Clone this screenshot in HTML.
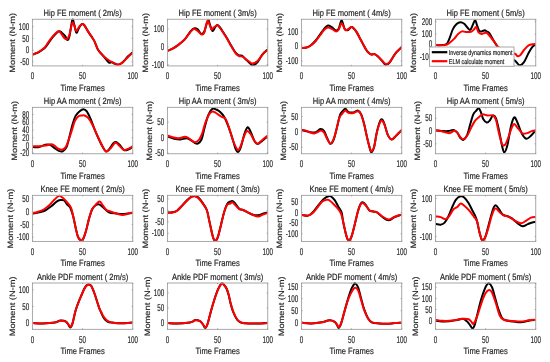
<!DOCTYPE html><html><head><meta charset="utf-8"><style>html,body{margin:0;padding:0;background:#fff;}svg{display:block;filter:blur(0.35px)}text{font-family:"Liberation Sans",sans-serif;stroke:#262626;stroke-width:0.2px;text-rendering:geometricPrecision}</style></head><body>
<svg width="550" height="362" viewBox="0 0 550 362">
<clipPath id="c00"><rect x="32.5" y="16.3" width="100.2" height="49.60000000000001"/></clipPath>
<g clip-path="url(#c00)"><path d="M33.10 54.40 C34.00 54.05 36.67 53.27 38.50 52.30 C40.33 51.33 42.72 49.73 44.10 48.60 C45.48 47.47 45.43 47.32 46.80 45.50 C48.17 43.68 50.35 40.05 52.30 37.70 C54.25 35.35 56.92 32.23 58.50 31.40 C60.08 30.57 60.72 31.95 61.80 32.70 C62.88 33.45 64.05 34.68 65.00 35.90 C65.95 37.12 66.75 40.00 67.50 40.00 C68.25 40.00 68.70 39.23 69.50 35.90 C70.30 32.57 71.53 21.97 72.30 20.00 C73.07 18.03 73.42 21.98 74.10 24.10 C74.78 26.22 75.57 32.10 76.40 32.70 C77.23 33.30 78.20 29.13 79.10 27.70 C80.00 26.27 80.97 24.55 81.80 24.10 C82.63 23.65 83.12 23.87 84.10 25.00 C85.08 26.13 86.48 29.00 87.70 30.90 C88.92 32.80 90.27 34.65 91.40 36.40 C92.53 38.15 93.37 39.12 94.50 41.40 C95.63 43.68 96.75 47.70 98.20 50.10 C99.65 52.50 101.43 53.73 103.20 55.80 C104.97 57.87 107.40 61.42 108.80 62.50 C110.20 63.58 110.07 61.93 111.60 62.30 C113.13 62.67 116.12 64.73 118.00 64.70 C119.88 64.67 121.27 63.47 122.90 62.10 C124.53 60.73 126.20 58.10 127.80 56.50 C129.40 54.90 131.72 53.17 132.50 52.50" fill="none" stroke="#000" stroke-width="2.0" stroke-linejoin="round" stroke-linecap="round"/><path d="M33.10 54.40 C34.00 54.00 36.67 53.07 38.50 52.00 C40.33 50.93 42.72 49.25 44.10 48.00 C45.48 46.75 45.43 46.37 46.80 44.50 C48.17 42.63 50.35 39.02 52.30 36.80 C54.25 34.58 56.92 31.58 58.50 31.20 C60.08 30.82 60.80 33.33 61.80 34.50 C62.80 35.67 63.67 37.43 64.50 38.20 C65.33 38.97 66.03 39.48 66.80 39.10 C67.57 38.72 68.33 38.10 69.10 35.90 C69.87 33.70 70.80 28.17 71.40 25.90 C72.00 23.63 72.25 22.45 72.70 22.30 C73.15 22.15 73.48 23.57 74.10 25.00 C74.72 26.43 75.57 30.60 76.40 30.90 C77.23 31.20 78.20 27.93 79.10 26.80 C80.00 25.67 80.97 24.40 81.80 24.10 C82.63 23.80 83.12 23.87 84.10 25.00 C85.08 26.13 86.48 29.00 87.70 30.90 C88.92 32.80 90.27 34.65 91.40 36.40 C92.53 38.15 93.37 39.12 94.50 41.40 C95.63 43.68 96.75 47.70 98.20 50.10 C99.65 52.50 101.67 54.27 103.20 55.80 C104.73 57.33 106.00 58.28 107.40 59.30 C108.80 60.32 109.83 61.00 111.60 61.90 C113.37 62.80 116.12 64.67 118.00 64.70 C119.88 64.73 121.27 63.35 122.90 62.10 C124.53 60.85 126.20 58.72 127.80 57.20 C129.40 55.68 131.72 53.70 132.50 53.00" fill="none" stroke="#f00" stroke-width="2.0" stroke-linejoin="round" stroke-linecap="round"/></g>
<rect x="32.5" y="19.3" width="100.2" height="46.60000000000001" fill="none" stroke="#acacac" stroke-width="1.05"/>
<path d="M32.50 65.90v-1.0M32.50 19.30v1.0M82.60 65.90v-1.0M82.60 19.30v1.0M132.70 65.90v-1.0M132.70 19.30v1.0M32.50 26.70h1.0M132.70 26.70h-1.0M32.50 38.40h1.0M132.70 38.40h-1.0M32.50 50.10h1.0M132.70 50.10h-1.0M32.50 61.80h1.0M132.70 61.80h-1.0" stroke="#959595" stroke-width="1" fill="none"/>
<text x="0" y="0" font-size="9" fill="#262626" text-anchor="middle" transform="translate(82.60 15.80) scale(0.84 1)">Hip FE moment ( 2m/s)</text>
<text font-size="9.8" fill="#262626" text-anchor="middle" transform="translate(32.50 79.00) scale(0.64 1)">0</text>
<text font-size="9.8" fill="#262626" text-anchor="middle" transform="translate(82.60 79.00) scale(0.64 1)">50</text>
<text font-size="9.8" fill="#262626" text-anchor="middle" transform="translate(132.70 79.00) scale(0.64 1)">100</text>
<text font-size="9" fill="#262626" text-anchor="middle" transform="translate(82.60 90.80) scale(0.84 1)">Time Frames</text>
<text font-size="9.8" fill="#262626" text-anchor="end" transform="translate(29.20 29.80) scale(0.64 1)">100</text>
<text font-size="9.8" fill="#262626" text-anchor="end" transform="translate(29.20 41.50) scale(0.64 1)">50</text>
<text font-size="9.8" fill="#262626" text-anchor="end" transform="translate(29.20 53.20) scale(0.64 1)">0</text>
<text font-size="9.8" fill="#262626" text-anchor="end" transform="translate(29.20 64.90) scale(0.64 1)">-50</text>
<text font-size="9.3" fill="#262626" text-anchor="middle" transform="translate(15.14 42.80) scale(0.84 1) rotate(-90)">Moment (N-m)</text>
<clipPath id="c01"><rect x="167.5" y="16.3" width="100.2" height="49.60000000000001"/></clipPath>
<g clip-path="url(#c01)"><path d="M168.00 50.70 C168.77 50.37 170.82 49.72 172.60 48.70 C174.38 47.68 176.67 46.17 178.70 44.60 C180.73 43.03 182.90 41.40 184.80 39.30 C186.70 37.20 188.58 33.82 190.10 32.00 C191.62 30.18 192.63 28.83 193.90 28.40 C195.17 27.97 196.48 28.47 197.70 29.40 C198.92 30.33 200.12 33.62 201.20 34.00 C202.28 34.38 203.08 33.98 204.20 31.70 C205.32 29.42 206.97 21.57 207.90 20.30 C208.83 19.03 209.05 22.32 209.80 24.10 C210.55 25.88 211.50 30.48 212.40 31.00 C213.30 31.52 214.38 28.22 215.20 27.20 C216.02 26.18 216.57 24.95 217.30 24.90 C218.03 24.85 218.58 25.63 219.60 26.90 C220.62 28.17 222.13 30.57 223.40 32.50 C224.67 34.43 226.02 36.50 227.20 38.50 C228.38 40.50 229.45 42.67 230.50 44.50 C231.55 46.33 232.53 48.00 233.50 49.50 C234.47 51.00 235.38 52.50 236.30 53.50 C237.22 54.50 238.05 55.13 239.00 55.50 C239.95 55.87 241.00 55.20 242.00 55.70 C243.00 56.20 243.70 57.25 245.00 58.50 C246.30 59.75 248.47 62.07 249.80 63.20 C251.13 64.33 251.70 65.48 253.00 65.30 C254.30 65.12 256.08 63.85 257.60 62.10 C259.12 60.35 260.58 56.77 262.10 54.80 C263.62 52.83 265.72 51.13 266.70 50.30 C267.68 49.47 267.78 49.88 268.00 49.80" fill="none" stroke="#000" stroke-width="2.0" stroke-linejoin="round" stroke-linecap="round"/><path d="M168.00 50.70 C168.77 50.37 170.82 49.72 172.60 48.70 C174.38 47.68 176.67 46.17 178.70 44.60 C180.73 43.03 182.90 41.32 184.80 39.30 C186.70 37.28 188.58 34.22 190.10 32.50 C191.62 30.78 192.63 29.25 193.90 29.00 C195.17 28.75 196.43 30.08 197.70 31.00 C198.97 31.92 200.42 34.18 201.50 34.50 C202.58 34.82 203.40 34.63 204.20 32.90 C205.00 31.17 205.68 26.12 206.30 24.10 C206.92 22.08 207.38 20.80 207.90 20.80 C208.42 20.80 208.82 22.67 209.40 24.10 C209.98 25.53 210.70 28.83 211.40 29.40 C212.10 29.97 212.62 28.18 213.60 27.50 C214.58 26.82 216.30 25.30 217.30 25.30 C218.30 25.30 218.58 26.22 219.60 27.50 C220.62 28.78 222.13 31.08 223.40 33.00 C224.67 34.92 226.02 37.02 227.20 39.00 C228.38 40.98 229.45 43.07 230.50 44.90 C231.55 46.73 232.53 48.48 233.50 50.00 C234.47 51.52 235.38 53.00 236.30 54.00 C237.22 55.00 238.05 55.62 239.00 56.00 C239.95 56.38 241.00 55.88 242.00 56.30 C243.00 56.72 243.70 57.52 245.00 58.50 C246.30 59.48 248.52 61.37 249.80 62.20 C251.08 63.03 251.42 63.70 252.70 63.50 C253.98 63.30 255.73 62.65 257.50 61.00 C259.27 59.35 261.70 55.32 263.30 53.60 C264.90 51.88 266.32 51.27 267.10 50.70 C267.88 50.13 267.85 50.28 268.00 50.20" fill="none" stroke="#f00" stroke-width="2.0" stroke-linejoin="round" stroke-linecap="round"/></g>
<rect x="167.5" y="19.3" width="100.2" height="46.60000000000001" fill="none" stroke="#acacac" stroke-width="1.05"/>
<path d="M167.50 65.90v-1.0M167.50 19.30v1.0M217.60 65.90v-1.0M217.60 19.30v1.0M267.70 65.90v-1.0M267.70 19.30v1.0M167.50 29.00h1.0M267.70 29.00h-1.0M167.50 47.00h1.0M267.70 47.00h-1.0M167.50 64.60h1.0M267.70 64.60h-1.0" stroke="#959595" stroke-width="1" fill="none"/>
<text x="0" y="0" font-size="9" fill="#262626" text-anchor="middle" transform="translate(217.60 15.80) scale(0.84 1)">Hip FE moment ( 3m/s)</text>
<text font-size="9.8" fill="#262626" text-anchor="middle" transform="translate(167.50 79.00) scale(0.64 1)">0</text>
<text font-size="9.8" fill="#262626" text-anchor="middle" transform="translate(217.60 79.00) scale(0.64 1)">50</text>
<text font-size="9.8" fill="#262626" text-anchor="middle" transform="translate(267.70 79.00) scale(0.64 1)">100</text>
<text font-size="9" fill="#262626" text-anchor="middle" transform="translate(217.60 90.80) scale(0.84 1)">Time Frames</text>
<text font-size="9.8" fill="#262626" text-anchor="end" transform="translate(164.20 32.10) scale(0.64 1)">100</text>
<text font-size="9.8" fill="#262626" text-anchor="end" transform="translate(164.20 50.10) scale(0.64 1)">0</text>
<text font-size="9.8" fill="#262626" text-anchor="end" transform="translate(164.20 67.70) scale(0.64 1)">-100</text>
<text font-size="9.3" fill="#262626" text-anchor="middle" transform="translate(148.05 42.80) scale(0.84 1) rotate(-90)">Moment (N-m)</text>
<clipPath id="c02"><rect x="301.5" y="16.3" width="100.2" height="49.60000000000001"/></clipPath>
<g clip-path="url(#c02)"><path d="M302.00 48.00 C302.77 47.92 305.07 48.00 306.60 47.50 C308.13 47.00 309.68 46.17 311.20 45.00 C312.72 43.83 314.18 42.33 315.70 40.50 C317.22 38.67 318.90 35.95 320.30 34.00 C321.70 32.05 322.83 30.20 324.10 28.80 C325.37 27.40 326.63 25.87 327.90 25.60 C329.17 25.33 330.32 26.38 331.70 27.20 C333.08 28.02 335.02 30.28 336.20 30.50 C337.38 30.72 337.90 30.20 338.80 28.50 C339.70 26.80 340.63 20.27 341.60 20.30 C342.57 20.33 343.60 27.05 344.60 28.70 C345.60 30.35 346.47 30.48 347.60 30.20 C348.73 29.92 350.40 27.32 351.40 27.00 C352.40 26.68 352.70 27.40 353.60 28.30 C354.50 29.20 355.73 30.70 356.80 32.40 C357.87 34.10 358.88 36.42 360.00 38.50 C361.12 40.58 362.50 43.07 363.50 44.90 C364.50 46.73 365.18 48.22 366.00 49.50 C366.82 50.78 367.52 51.77 368.40 52.60 C369.28 53.43 370.28 54.25 371.30 54.50 C372.32 54.75 373.38 53.77 374.50 54.10 C375.62 54.43 376.75 55.38 378.00 56.50 C379.25 57.62 380.72 59.42 382.00 60.80 C383.28 62.18 384.43 64.52 385.70 64.80 C386.97 65.08 388.00 64.37 389.60 62.50 C391.20 60.63 393.38 56.05 395.30 53.60 C397.22 51.15 399.98 48.85 401.10 47.80 C402.22 46.75 401.85 47.38 402.00 47.30" fill="none" stroke="#000" stroke-width="2.0" stroke-linejoin="round" stroke-linecap="round"/><path d="M302.00 48.00 C302.77 47.92 305.07 47.97 306.60 47.50 C308.13 47.03 309.68 46.28 311.20 45.20 C312.72 44.12 314.18 42.70 315.70 41.00 C317.22 39.30 318.90 36.83 320.30 35.00 C321.70 33.17 322.83 31.23 324.10 30.00 C325.37 28.77 326.63 27.78 327.90 27.60 C329.17 27.42 330.32 28.27 331.70 28.90 C333.08 29.53 335.02 31.32 336.20 31.40 C337.38 31.48 337.97 30.73 338.80 29.40 C339.63 28.07 340.48 24.03 341.20 23.40 C341.92 22.77 342.40 24.47 343.10 25.60 C343.80 26.73 344.52 29.63 345.40 30.20 C346.28 30.77 347.42 29.53 348.40 29.00 C349.38 28.47 350.43 27.08 351.30 27.00 C352.17 26.92 352.68 27.60 353.60 28.50 C354.52 29.40 355.73 30.73 356.80 32.40 C357.87 34.07 358.88 36.42 360.00 38.50 C361.12 40.58 362.50 43.07 363.50 44.90 C364.50 46.73 365.18 48.22 366.00 49.50 C366.82 50.78 367.52 51.77 368.40 52.60 C369.28 53.43 370.28 54.25 371.30 54.50 C372.32 54.75 373.38 53.77 374.50 54.10 C375.62 54.43 376.75 55.43 378.00 56.50 C379.25 57.57 380.72 59.25 382.00 60.50 C383.28 61.75 384.43 63.72 385.70 64.00 C386.97 64.28 388.00 63.93 389.60 62.20 C391.20 60.47 393.38 56.00 395.30 53.60 C397.22 51.20 399.98 48.85 401.10 47.80 C402.22 46.75 401.85 47.38 402.00 47.30" fill="none" stroke="#f00" stroke-width="2.0" stroke-linejoin="round" stroke-linecap="round"/></g>
<rect x="301.5" y="19.3" width="100.2" height="46.60000000000001" fill="none" stroke="#acacac" stroke-width="1.05"/>
<path d="M301.50 65.90v-1.0M301.50 19.30v1.0M351.60 65.90v-1.0M351.60 19.30v1.0M401.70 65.90v-1.0M401.70 19.30v1.0M301.50 32.00h1.0M401.70 32.00h-1.0M301.50 46.20h1.0M401.70 46.20h-1.0M301.50 61.00h1.0M401.70 61.00h-1.0" stroke="#959595" stroke-width="1" fill="none"/>
<text x="0" y="0" font-size="9" fill="#262626" text-anchor="middle" transform="translate(351.60 15.80) scale(0.84 1)">Hip FE moment ( 4m/s)</text>
<text font-size="9.8" fill="#262626" text-anchor="middle" transform="translate(301.50 79.00) scale(0.64 1)">0</text>
<text font-size="9.8" fill="#262626" text-anchor="middle" transform="translate(351.60 79.00) scale(0.64 1)">50</text>
<text font-size="9.8" fill="#262626" text-anchor="middle" transform="translate(401.70 79.00) scale(0.64 1)">100</text>
<text font-size="9" fill="#262626" text-anchor="middle" transform="translate(351.60 90.80) scale(0.84 1)">Time Frames</text>
<text font-size="9.8" fill="#262626" text-anchor="end" transform="translate(298.20 35.10) scale(0.64 1)">100</text>
<text font-size="9.8" fill="#262626" text-anchor="end" transform="translate(298.20 49.30) scale(0.64 1)">0</text>
<text font-size="9.8" fill="#262626" text-anchor="end" transform="translate(298.20 64.10) scale(0.64 1)">-100</text>
<text font-size="9.3" fill="#262626" text-anchor="middle" transform="translate(282.05 42.80) scale(0.84 1) rotate(-90)">Moment (N-m)</text>
<clipPath id="c03"><rect x="435.5" y="16.3" width="100.2" height="49.60000000000001"/></clipPath>
<g clip-path="url(#c03)"><path d="M436.30 45.10 C437.27 45.10 440.37 45.30 442.10 45.10 C443.83 44.90 445.43 45.12 446.70 43.90 C447.97 42.68 448.68 40.22 449.70 37.80 C450.72 35.38 451.65 31.68 452.80 29.40 C453.95 27.12 455.33 25.28 456.60 24.10 C457.87 22.92 459.13 22.35 460.40 22.30 C461.67 22.25 463.07 22.98 464.20 23.80 C465.33 24.62 466.20 26.18 467.20 27.20 C468.20 28.22 469.27 30.28 470.20 29.90 C471.13 29.52 471.97 26.50 472.80 24.90 C473.63 23.30 474.43 20.05 475.20 20.30 C475.97 20.55 476.70 24.62 477.40 26.40 C478.10 28.18 478.70 30.17 479.40 31.00 C480.10 31.83 480.72 31.53 481.60 31.40 C482.48 31.27 483.97 30.27 484.70 30.20 C485.43 30.13 485.27 30.55 486.00 31.00 C486.73 31.45 487.95 31.52 489.10 32.90 C490.25 34.28 491.63 37.22 492.90 39.30 C494.17 41.38 495.02 42.95 496.70 45.40 C498.38 47.85 500.95 51.90 503.00 54.00 C505.05 56.10 507.02 56.90 509.00 58.00 C510.98 59.10 513.15 59.40 514.90 60.60 C516.65 61.80 517.98 64.95 519.50 65.20 C521.02 65.45 522.48 64.13 524.00 62.10 C525.52 60.07 527.20 55.53 528.60 53.00 C530.00 50.47 531.17 48.30 532.40 46.90 C533.63 45.50 535.40 44.98 536.00 44.60" fill="none" stroke="#000" stroke-width="2.0" stroke-linejoin="round" stroke-linecap="round"/><path d="M436.30 45.10 C437.78 45.10 442.97 45.50 445.20 45.10 C447.43 44.70 448.18 43.78 449.70 42.70 C451.22 41.62 452.90 40.05 454.30 38.60 C455.70 37.15 456.83 35.20 458.10 34.00 C459.37 32.80 460.63 31.73 461.90 31.40 C463.17 31.07 464.18 31.95 465.70 32.00 C467.22 32.05 469.62 32.13 471.00 31.70 C472.38 31.27 473.12 30.15 474.00 29.40 C474.88 28.65 475.53 26.68 476.30 27.20 C477.07 27.72 477.72 31.37 478.60 32.50 C479.48 33.63 480.58 33.93 481.60 34.00 C482.62 34.07 483.83 33.08 484.70 32.90 C485.57 32.72 485.82 32.22 486.80 32.90 C487.78 33.58 489.20 35.30 490.60 37.00 C492.00 38.70 494.07 41.57 495.20 43.10 C496.33 44.63 495.77 44.88 497.40 46.20 C499.03 47.52 502.08 49.73 505.00 51.00 C507.92 52.27 512.87 52.97 514.90 53.80 C516.93 54.63 516.32 55.75 517.20 56.00 C518.08 56.25 519.07 56.30 520.20 55.30 C521.33 54.30 522.60 51.65 524.00 50.00 C525.40 48.35 527.07 46.37 528.60 45.40 C530.13 44.43 531.97 44.40 533.20 44.20 C534.43 44.00 535.53 44.20 536.00 44.20" fill="none" stroke="#f00" stroke-width="2.0" stroke-linejoin="round" stroke-linecap="round"/></g>
<rect x="435.5" y="19.3" width="100.2" height="46.60000000000001" fill="none" stroke="#acacac" stroke-width="1.05"/>
<path d="M435.50 65.90v-1.0M435.50 19.30v1.0M485.60 65.90v-1.0M485.60 19.30v1.0M535.70 65.90v-1.0M535.70 19.30v1.0M435.50 21.80h1.0M535.70 21.80h-1.0M435.50 34.00h1.0M535.70 34.00h-1.0M435.50 44.20h1.0M535.70 44.20h-1.0M435.50 56.80h1.0M535.70 56.80h-1.0" stroke="#959595" stroke-width="1" fill="none"/>
<text x="0" y="0" font-size="9" fill="#262626" text-anchor="middle" transform="translate(485.60 15.80) scale(0.84 1)">Hip FE moment ( 5m/s)</text>
<text font-size="9.8" fill="#262626" text-anchor="middle" transform="translate(435.50 79.00) scale(0.64 1)">0</text>
<text font-size="9.8" fill="#262626" text-anchor="middle" transform="translate(485.60 79.00) scale(0.64 1)">50</text>
<text font-size="9.8" fill="#262626" text-anchor="middle" transform="translate(535.70 79.00) scale(0.64 1)">100</text>
<text font-size="9" fill="#262626" text-anchor="middle" transform="translate(485.60 90.80) scale(0.84 1)">Time Frames</text>
<text font-size="9.8" fill="#262626" text-anchor="end" transform="translate(432.20 24.90) scale(0.64 1)">200</text>
<text font-size="9.8" fill="#262626" text-anchor="end" transform="translate(432.20 37.10) scale(0.64 1)">100</text>
<text font-size="9.8" fill="#262626" text-anchor="end" transform="translate(432.20 47.30) scale(0.64 1)">0</text>
<text font-size="9.8" fill="#262626" text-anchor="end" transform="translate(432.20 59.90) scale(0.64 1)">-100</text>
<text font-size="9.3" fill="#262626" text-anchor="middle" transform="translate(416.05 42.80) scale(0.84 1) rotate(-90)">Moment (N-m)</text>
<clipPath id="c10"><rect x="32.5" y="104.4" width="100.2" height="49.29999999999998"/></clipPath>
<g clip-path="url(#c10)"><path d="M33.30 147.10 C34.27 147.10 37.12 147.48 39.10 147.10 C41.08 146.72 43.42 145.18 45.20 144.80 C46.98 144.42 48.28 144.30 49.80 144.80 C51.32 145.30 52.78 146.78 54.30 147.80 C55.82 148.82 57.50 150.32 58.90 150.90 C60.30 151.48 61.43 151.93 62.70 151.30 C63.97 150.67 65.37 149.58 66.50 147.10 C67.63 144.62 68.48 140.20 69.50 136.40 C70.52 132.60 71.58 127.72 72.60 124.30 C73.62 120.88 74.47 118.05 75.60 115.90 C76.73 113.75 78.08 112.52 79.40 111.40 C80.72 110.28 82.27 109.20 83.50 109.20 C84.73 109.20 85.62 109.77 86.80 111.40 C87.98 113.03 89.33 116.10 90.60 119.00 C91.87 121.90 93.00 125.38 94.40 128.80 C95.80 132.22 97.60 136.45 99.00 139.50 C100.40 142.55 101.62 145.08 102.80 147.10 C103.98 149.12 104.97 151.35 106.10 151.60 C107.23 151.85 108.38 149.98 109.60 148.60 C110.82 147.22 112.25 144.37 113.40 143.30 C114.55 142.23 115.35 141.82 116.50 142.20 C117.65 142.58 119.03 144.28 120.30 145.60 C121.57 146.92 122.72 149.47 124.10 150.10 C125.48 150.73 127.22 149.95 128.60 149.40 C129.98 148.85 131.77 147.23 132.40 146.80" fill="none" stroke="#000" stroke-width="2.0" stroke-linejoin="round" stroke-linecap="round"/><path d="M33.30 146.30 C34.27 146.30 37.12 146.42 39.10 146.30 C41.08 146.18 43.17 145.93 45.20 145.60 C47.23 145.27 49.78 144.30 51.30 144.30 C52.82 144.30 53.17 144.88 54.30 145.60 C55.43 146.32 56.83 147.90 58.10 148.60 C59.37 149.30 60.63 150.05 61.90 149.80 C63.17 149.55 64.55 148.82 65.70 147.10 C66.85 145.38 67.78 142.28 68.80 139.50 C69.82 136.72 70.80 133.45 71.80 130.40 C72.80 127.35 73.78 123.48 74.80 121.20 C75.82 118.92 76.75 117.65 77.90 116.70 C79.05 115.75 80.58 115.70 81.70 115.50 C82.82 115.30 83.48 115.05 84.60 115.50 C85.72 115.95 87.13 116.73 88.40 118.20 C89.67 119.67 90.82 121.63 92.20 124.30 C93.58 126.97 95.18 130.92 96.70 134.20 C98.22 137.48 99.78 141.15 101.30 144.00 C102.82 146.85 104.28 150.53 105.80 151.30 C107.32 152.07 108.82 150.02 110.40 148.60 C111.98 147.18 113.78 143.25 115.30 142.80 C116.82 142.35 118.03 144.68 119.50 145.90 C120.97 147.12 122.58 149.65 124.10 150.10 C125.62 150.55 127.22 149.15 128.60 148.60 C129.98 148.05 131.77 147.10 132.40 146.80" fill="none" stroke="#f00" stroke-width="2.0" stroke-linejoin="round" stroke-linecap="round"/></g>
<rect x="32.5" y="107.4" width="100.2" height="46.29999999999998" fill="none" stroke="#acacac" stroke-width="1.05"/>
<path d="M32.50 153.70v-1.0M32.50 107.40v1.0M82.60 153.70v-1.0M82.60 107.40v1.0M132.70 153.70v-1.0M132.70 107.40v1.0M32.50 114.40h1.0M132.70 114.40h-1.0M32.50 122.20h1.0M132.70 122.20h-1.0M32.50 130.00h1.0M132.70 130.00h-1.0M32.50 137.70h1.0M132.70 137.70h-1.0M32.50 145.50h1.0M132.70 145.50h-1.0M32.50 153.20h1.0M132.70 153.20h-1.0" stroke="#959595" stroke-width="1" fill="none"/>
<text x="0" y="0" font-size="9" fill="#262626" text-anchor="middle" transform="translate(82.60 103.90) scale(0.84 1)">Hip AA moment ( 2m/s)</text>
<text font-size="9.8" fill="#262626" text-anchor="middle" transform="translate(32.50 166.80) scale(0.64 1)">0</text>
<text font-size="9.8" fill="#262626" text-anchor="middle" transform="translate(82.60 166.80) scale(0.64 1)">50</text>
<text font-size="9.8" fill="#262626" text-anchor="middle" transform="translate(132.70 166.80) scale(0.64 1)">100</text>
<text font-size="9" fill="#262626" text-anchor="middle" transform="translate(82.60 178.60) scale(0.84 1)">Time Frames</text>
<text font-size="9.8" fill="#262626" text-anchor="end" transform="translate(29.20 117.50) scale(0.64 1)">80</text>
<text font-size="9.8" fill="#262626" text-anchor="end" transform="translate(29.20 125.30) scale(0.64 1)">60</text>
<text font-size="9.8" fill="#262626" text-anchor="end" transform="translate(29.20 133.10) scale(0.64 1)">40</text>
<text font-size="9.8" fill="#262626" text-anchor="end" transform="translate(29.20 140.80) scale(0.64 1)">20</text>
<text font-size="9.8" fill="#262626" text-anchor="end" transform="translate(29.20 148.60) scale(0.64 1)">0</text>
<text font-size="9.8" fill="#262626" text-anchor="end" transform="translate(29.20 156.30) scale(0.64 1)">-20</text>
<text font-size="9.3" fill="#262626" text-anchor="middle" transform="translate(16.54 130.75) scale(0.84 1) rotate(-90)">Moment (N-m)</text>
<clipPath id="c11"><rect x="167.5" y="104.4" width="100.2" height="49.29999999999998"/></clipPath>
<g clip-path="url(#c11)"><path d="M168.00 136.70 C169.02 137.03 172.07 138.23 174.10 138.70 C176.13 139.17 178.17 139.57 180.20 139.50 C182.23 139.43 184.53 138.18 186.30 138.30 C188.07 138.42 189.42 139.45 190.80 140.20 C192.18 140.95 193.45 142.22 194.60 142.80 C195.75 143.38 196.55 144.25 197.70 143.70 C198.85 143.15 200.37 142.10 201.50 139.50 C202.63 136.90 203.37 132.15 204.50 128.10 C205.63 124.05 206.98 118.42 208.30 115.20 C209.62 111.98 211.00 109.70 212.40 108.80 C213.80 107.90 215.50 109.37 216.70 109.80 C217.90 110.23 218.37 110.25 219.60 111.40 C220.83 112.55 222.58 114.05 224.10 116.70 C225.62 119.35 227.30 123.63 228.70 127.30 C230.10 130.97 231.37 135.15 232.50 138.70 C233.63 142.25 234.57 146.40 235.50 148.60 C236.43 150.80 237.22 152.15 238.10 151.90 C238.98 151.65 239.72 150.18 240.80 147.10 C241.88 144.02 243.45 136.70 244.60 133.40 C245.75 130.10 246.68 127.55 247.70 127.30 C248.72 127.05 249.57 129.62 250.70 131.90 C251.83 134.18 253.35 138.98 254.50 141.00 C255.65 143.02 256.33 144.00 257.60 144.00 C258.87 144.00 260.58 142.13 262.10 141.00 C263.62 139.87 265.72 137.95 266.70 137.20 C267.68 136.45 267.78 136.62 268.00 136.50" fill="none" stroke="#000" stroke-width="2.0" stroke-linejoin="round" stroke-linecap="round"/><path d="M168.00 135.70 C168.77 135.95 170.82 136.77 172.60 137.20 C174.38 137.63 176.67 138.38 178.70 138.30 C180.73 138.22 183.15 136.75 184.80 136.70 C186.45 136.65 187.33 137.28 188.60 138.00 C189.87 138.72 191.27 140.30 192.40 141.00 C193.53 141.70 194.27 142.45 195.40 142.20 C196.53 141.95 198.07 140.97 199.20 139.50 C200.33 138.03 201.18 136.18 202.20 133.40 C203.22 130.62 204.15 125.97 205.30 122.80 C206.45 119.63 207.92 116.28 209.10 114.40 C210.28 112.52 211.25 111.73 212.40 111.50 C213.55 111.27 214.55 112.17 216.00 113.00 C217.45 113.83 219.50 115.50 221.10 116.50 C222.70 117.50 224.22 116.95 225.60 119.00 C226.98 121.05 228.13 125.13 229.40 128.80 C230.67 132.47 231.80 137.50 233.20 141.00 C234.60 144.50 236.53 149.03 237.80 149.80 C239.07 150.57 239.67 148.08 240.80 145.60 C241.93 143.12 243.53 137.32 244.60 134.90 C245.67 132.48 246.18 131.22 247.20 131.10 C248.22 130.98 249.48 132.55 250.70 134.20 C251.92 135.85 253.35 139.42 254.50 141.00 C255.65 142.58 256.33 143.83 257.60 143.70 C258.87 143.57 260.58 141.42 262.10 140.20 C263.62 138.98 265.72 137.13 266.70 136.40 C267.68 135.67 267.78 135.90 268.00 135.80" fill="none" stroke="#f00" stroke-width="2.0" stroke-linejoin="round" stroke-linecap="round"/></g>
<rect x="167.5" y="107.4" width="100.2" height="46.29999999999998" fill="none" stroke="#acacac" stroke-width="1.05"/>
<path d="M167.50 153.70v-1.0M167.50 107.40v1.0M217.60 153.70v-1.0M217.60 107.40v1.0M267.70 153.70v-1.0M267.70 107.40v1.0M167.50 122.20h1.0M267.70 122.20h-1.0M167.50 137.80h1.0M267.70 137.80h-1.0M167.50 153.20h1.0M267.70 153.20h-1.0" stroke="#959595" stroke-width="1" fill="none"/>
<text x="0" y="0" font-size="9" fill="#262626" text-anchor="middle" transform="translate(217.60 103.90) scale(0.84 1)">Hip AA moment ( 3m/s)</text>
<text font-size="9.8" fill="#262626" text-anchor="middle" transform="translate(167.50 166.80) scale(0.64 1)">0</text>
<text font-size="9.8" fill="#262626" text-anchor="middle" transform="translate(217.60 166.80) scale(0.64 1)">50</text>
<text font-size="9.8" fill="#262626" text-anchor="middle" transform="translate(267.70 166.80) scale(0.64 1)">100</text>
<text font-size="9" fill="#262626" text-anchor="middle" transform="translate(217.60 178.60) scale(0.84 1)">Time Frames</text>
<text font-size="9.8" fill="#262626" text-anchor="end" transform="translate(164.20 125.30) scale(0.64 1)">50</text>
<text font-size="9.8" fill="#262626" text-anchor="end" transform="translate(164.20 140.90) scale(0.64 1)">0</text>
<text font-size="9.8" fill="#262626" text-anchor="end" transform="translate(164.20 156.30) scale(0.64 1)">-50</text>
<text font-size="9.3" fill="#262626" text-anchor="middle" transform="translate(151.54 130.75) scale(0.84 1) rotate(-90)">Moment (N-m)</text>
<clipPath id="c12"><rect x="301.5" y="104.4" width="100.2" height="49.29999999999998"/></clipPath>
<g clip-path="url(#c12)"><path d="M302.00 130.10 C304.03 130.52 311.15 132.77 314.20 132.60 C317.25 132.43 318.65 129.35 320.30 129.10 C321.95 128.85 322.97 129.62 324.10 131.10 C325.23 132.58 326.08 135.90 327.10 138.00 C328.12 140.10 329.10 143.45 330.20 143.70 C331.30 143.95 332.57 142.23 333.70 139.50 C334.83 136.77 335.95 131.35 337.00 127.30 C338.05 123.25 338.98 117.98 340.00 115.20 C341.02 112.42 342.20 111.67 343.10 110.60 C344.00 109.53 344.52 108.55 345.40 108.80 C346.28 109.05 347.03 111.50 348.40 112.10 C349.77 112.70 351.98 112.65 353.60 112.40 C355.22 112.15 356.83 110.27 358.10 110.60 C359.37 110.93 360.18 112.12 361.20 114.40 C362.22 116.68 363.20 120.37 364.20 124.30 C365.20 128.23 366.18 133.70 367.20 138.00 C368.22 142.30 369.53 147.78 370.30 150.10 C371.07 152.42 371.17 152.40 371.80 151.90 C372.43 151.40 373.22 150.57 374.10 147.10 C374.98 143.63 375.97 135.67 377.10 131.10 C378.23 126.53 379.75 121.08 380.90 119.70 C382.05 118.32 382.85 120.27 384.00 122.80 C385.15 125.33 386.53 132.12 387.80 134.90 C389.07 137.68 390.22 139.37 391.60 139.50 C392.98 139.63 394.47 137.22 396.10 135.70 C397.73 134.18 400.42 131.37 401.40 130.40 C402.38 129.43 401.90 129.98 402.00 129.90" fill="none" stroke="#000" stroke-width="2.0" stroke-linejoin="round" stroke-linecap="round"/><path d="M302.00 130.40 C302.52 130.40 303.83 130.10 305.10 130.40 C306.37 130.70 308.08 131.70 309.60 132.20 C311.12 132.70 312.80 133.45 314.20 133.40 C315.60 133.35 316.87 132.40 318.00 131.90 C319.13 131.40 319.98 130.28 321.00 130.40 C322.02 130.52 323.08 131.22 324.10 132.60 C325.12 133.98 326.08 136.85 327.10 138.70 C328.12 140.55 329.18 143.45 330.20 143.70 C331.22 143.95 332.20 142.42 333.20 140.20 C334.20 137.98 335.18 134.07 336.20 130.40 C337.22 126.73 338.28 121.00 339.30 118.20 C340.32 115.40 341.28 114.87 342.30 113.60 C343.32 112.33 344.38 110.72 345.40 110.60 C346.42 110.48 347.03 112.52 348.40 112.90 C349.77 113.28 351.98 113.18 353.60 112.90 C355.22 112.62 356.83 110.88 358.10 111.20 C359.37 111.52 360.18 112.58 361.20 114.80 C362.22 117.02 363.20 120.63 364.20 124.50 C365.20 128.37 366.18 133.83 367.20 138.00 C368.22 142.17 369.53 147.33 370.30 149.50 C371.07 151.67 371.17 151.42 371.80 151.00 C372.43 150.58 373.22 150.25 374.10 147.00 C374.98 143.75 375.97 135.85 377.10 131.50 C378.23 127.15 379.75 122.23 380.90 120.90 C382.05 119.57 382.85 121.17 384.00 123.50 C385.15 125.83 386.53 132.23 387.80 134.90 C389.07 137.57 390.22 139.37 391.60 139.50 C392.98 139.63 394.47 137.22 396.10 135.70 C397.73 134.18 400.42 131.37 401.40 130.40 C402.38 129.43 401.90 129.98 402.00 129.90" fill="none" stroke="#f00" stroke-width="2.0" stroke-linejoin="round" stroke-linecap="round"/></g>
<rect x="301.5" y="107.4" width="100.2" height="46.29999999999998" fill="none" stroke="#acacac" stroke-width="1.05"/>
<path d="M301.50 153.70v-1.0M301.50 107.40v1.0M351.60 153.70v-1.0M351.60 107.40v1.0M401.70 153.70v-1.0M401.70 107.40v1.0M301.50 116.40h1.0M401.70 116.40h-1.0M301.50 131.80h1.0M401.70 131.80h-1.0M301.50 147.20h1.0M401.70 147.20h-1.0" stroke="#959595" stroke-width="1" fill="none"/>
<text x="0" y="0" font-size="9" fill="#262626" text-anchor="middle" transform="translate(351.60 103.90) scale(0.84 1)">Hip AA moment ( 4m/s)</text>
<text font-size="9.8" fill="#262626" text-anchor="middle" transform="translate(301.50 166.80) scale(0.64 1)">0</text>
<text font-size="9.8" fill="#262626" text-anchor="middle" transform="translate(351.60 166.80) scale(0.64 1)">50</text>
<text font-size="9.8" fill="#262626" text-anchor="middle" transform="translate(401.70 166.80) scale(0.64 1)">100</text>
<text font-size="9" fill="#262626" text-anchor="middle" transform="translate(351.60 178.60) scale(0.84 1)">Time Frames</text>
<text font-size="9.8" fill="#262626" text-anchor="end" transform="translate(298.20 119.50) scale(0.64 1)">50</text>
<text font-size="9.8" fill="#262626" text-anchor="end" transform="translate(298.20 134.90) scale(0.64 1)">0</text>
<text font-size="9.8" fill="#262626" text-anchor="end" transform="translate(298.20 150.30) scale(0.64 1)">-50</text>
<text font-size="9.3" fill="#262626" text-anchor="middle" transform="translate(285.54 130.75) scale(0.84 1) rotate(-90)">Moment (N-m)</text>
<clipPath id="c13"><rect x="435.5" y="104.4" width="100.2" height="49.29999999999998"/></clipPath>
<g clip-path="url(#c13)"><path d="M436.00 130.40 C437.27 130.52 441.57 130.98 443.60 131.10 C445.63 131.22 446.55 131.27 448.20 131.10 C449.85 130.93 451.98 129.85 453.50 130.10 C455.02 130.35 456.15 131.28 457.30 132.60 C458.45 133.92 459.38 136.80 460.40 138.00 C461.42 139.20 462.27 140.32 463.40 139.80 C464.53 139.28 466.07 137.48 467.20 134.90 C468.33 132.32 469.18 127.72 470.20 124.30 C471.22 120.88 472.28 116.68 473.30 114.40 C474.32 112.12 475.42 111.62 476.30 110.60 C477.18 109.58 477.83 108.05 478.60 108.30 C479.37 108.55 480.13 110.32 480.90 112.10 C481.67 113.88 482.22 117.27 483.20 119.00 C484.18 120.73 485.70 122.25 486.80 122.50 C487.90 122.75 488.78 121.67 489.80 120.50 C490.82 119.33 491.88 115.88 492.90 115.50 C493.92 115.12 494.88 115.72 495.90 118.20 C496.92 120.68 497.98 125.83 499.00 130.40 C500.02 134.97 501.12 141.93 502.00 145.60 C502.88 149.27 503.42 152.40 504.30 152.40 C505.18 152.40 506.17 150.03 507.30 145.60 C508.43 141.17 509.95 130.50 511.10 125.80 C512.25 121.10 513.18 118.03 514.20 117.40 C515.22 116.77 515.93 119.33 517.20 122.00 C518.47 124.67 520.28 130.62 521.80 133.40 C523.32 136.18 524.78 138.32 526.30 138.70 C527.82 139.08 529.28 137.18 530.90 135.70 C532.52 134.22 535.15 130.78 536.00 129.80" fill="none" stroke="#000" stroke-width="2.0" stroke-linejoin="round" stroke-linecap="round"/><path d="M436.00 130.40 C436.77 130.52 439.07 130.80 440.60 131.10 C442.13 131.40 443.68 131.87 445.20 132.20 C446.72 132.53 448.18 133.35 449.70 133.10 C451.22 132.85 453.03 130.78 454.30 130.70 C455.57 130.62 456.28 131.52 457.30 132.60 C458.32 133.68 459.38 136.10 460.40 137.20 C461.42 138.30 462.27 139.45 463.40 139.20 C464.53 138.95 465.93 137.55 467.20 135.70 C468.47 133.85 469.73 130.52 471.00 128.10 C472.27 125.68 473.53 122.98 474.80 121.20 C476.07 119.42 477.33 118.53 478.60 117.40 C479.87 116.27 480.90 114.72 482.40 114.40 C483.90 114.08 485.85 115.32 487.60 115.50 C489.35 115.68 491.52 114.80 492.90 115.50 C494.28 116.20 494.88 116.72 495.90 119.70 C496.92 122.68 497.98 129.35 499.00 133.40 C500.02 137.45 501.00 142.10 502.00 144.00 C503.00 145.90 503.98 145.80 505.00 144.80 C506.02 143.80 506.95 140.92 508.10 138.00 C509.25 135.08 510.88 129.63 511.90 127.30 C512.92 124.97 513.32 124.00 514.20 124.00 C515.08 124.00 515.82 125.73 517.20 127.30 C518.58 128.87 520.85 132.43 522.50 133.40 C524.15 134.37 525.58 133.48 527.10 133.10 C528.62 132.72 530.12 131.55 531.60 131.10 C533.08 130.65 535.27 130.52 536.00 130.40" fill="none" stroke="#f00" stroke-width="2.0" stroke-linejoin="round" stroke-linecap="round"/></g>
<rect x="435.5" y="107.4" width="100.2" height="46.29999999999998" fill="none" stroke="#acacac" stroke-width="1.05"/>
<path d="M435.50 153.70v-1.0M435.50 107.40v1.0M485.60 153.70v-1.0M485.60 107.40v1.0M535.70 153.70v-1.0M535.70 107.40v1.0M435.50 118.20h1.0M535.70 118.20h-1.0M435.50 131.00h1.0M535.70 131.00h-1.0M435.50 143.80h1.0M535.70 143.80h-1.0" stroke="#959595" stroke-width="1" fill="none"/>
<text x="0" y="0" font-size="9" fill="#262626" text-anchor="middle" transform="translate(485.60 103.90) scale(0.84 1)">Hip AA moment ( 5m/s)</text>
<text font-size="9.8" fill="#262626" text-anchor="middle" transform="translate(435.50 166.80) scale(0.64 1)">0</text>
<text font-size="9.8" fill="#262626" text-anchor="middle" transform="translate(485.60 166.80) scale(0.64 1)">50</text>
<text font-size="9.8" fill="#262626" text-anchor="middle" transform="translate(535.70 166.80) scale(0.64 1)">100</text>
<text font-size="9" fill="#262626" text-anchor="middle" transform="translate(485.60 178.60) scale(0.84 1)">Time Frames</text>
<text font-size="9.8" fill="#262626" text-anchor="end" transform="translate(432.20 121.30) scale(0.64 1)">50</text>
<text font-size="9.8" fill="#262626" text-anchor="end" transform="translate(432.20 134.10) scale(0.64 1)">0</text>
<text font-size="9.8" fill="#262626" text-anchor="end" transform="translate(432.20 146.90) scale(0.64 1)">-50</text>
<text font-size="9.3" fill="#262626" text-anchor="middle" transform="translate(419.54 130.75) scale(0.84 1) rotate(-90)">Moment (N-m)</text>
<clipPath id="c20"><rect x="32.5" y="192.4" width="100.2" height="49.099999999999994"/></clipPath>
<g clip-path="url(#c20)"><path d="M33.30 213.50 C34.27 213.30 37.12 212.80 39.10 212.30 C41.08 211.80 43.17 211.52 45.20 210.50 C47.23 209.48 49.40 207.68 51.30 206.20 C53.20 204.72 55.08 202.62 56.60 201.60 C58.12 200.58 59.13 200.30 60.40 200.10 C61.67 199.90 63.07 199.63 64.20 200.40 C65.33 201.17 66.18 203.48 67.20 204.70 C68.22 205.92 69.28 205.68 70.30 207.70 C71.32 209.72 72.42 213.50 73.30 216.80 C74.18 220.10 74.83 224.20 75.60 227.50 C76.37 230.80 77.02 234.45 77.90 236.60 C78.78 238.75 80.05 239.95 80.90 240.40 C81.75 240.85 82.13 240.95 83.00 239.30 C83.87 237.65 85.08 233.98 86.10 230.50 C87.12 227.02 88.08 221.95 89.10 218.40 C90.12 214.85 91.05 211.43 92.20 209.20 C93.35 206.97 94.87 205.80 96.00 205.00 C97.13 204.20 97.87 204.07 99.00 204.40 C100.13 204.73 101.15 205.68 102.80 207.00 C104.45 208.32 106.62 211.22 108.90 212.30 C111.18 213.38 114.22 213.20 116.50 213.50 C118.78 213.80 120.70 214.10 122.60 214.10 C124.50 214.10 126.27 213.68 127.90 213.50 C129.53 213.32 131.65 213.08 132.40 213.00" fill="none" stroke="#000" stroke-width="2.0" stroke-linejoin="round" stroke-linecap="round"/><path d="M33.30 213.00 C34.02 212.83 35.87 212.58 37.60 212.00 C39.33 211.42 41.67 210.72 43.70 209.50 C45.73 208.28 48.03 206.32 49.80 204.70 C51.57 203.08 52.78 201.27 54.30 199.80 C55.82 198.33 57.50 196.23 58.90 195.90 C60.30 195.57 61.32 196.72 62.70 197.80 C64.08 198.88 65.82 200.75 67.20 202.40 C68.58 204.05 69.98 205.30 71.00 207.70 C72.02 210.10 72.53 213.50 73.30 216.80 C74.07 220.10 74.83 224.20 75.60 227.50 C76.37 230.80 77.02 234.45 77.90 236.60 C78.78 238.75 80.05 239.95 80.90 240.40 C81.75 240.85 82.13 240.95 83.00 239.30 C83.87 237.65 85.08 233.98 86.10 230.50 C87.12 227.02 88.08 221.95 89.10 218.40 C90.12 214.85 91.05 211.53 92.20 209.20 C93.35 206.87 94.73 205.67 96.00 204.40 C97.27 203.13 98.67 201.43 99.80 201.60 C100.93 201.77 101.67 204.00 102.80 205.40 C103.93 206.80 105.33 208.98 106.60 210.00 C107.87 211.02 108.75 210.92 110.40 211.50 C112.05 212.08 114.47 212.92 116.50 213.50 C118.53 214.08 120.70 214.95 122.60 215.00 C124.50 215.05 126.27 214.20 127.90 213.80 C129.53 213.40 131.65 212.80 132.40 212.60" fill="none" stroke="#f00" stroke-width="2.0" stroke-linejoin="round" stroke-linecap="round"/></g>
<rect x="32.5" y="195.4" width="100.2" height="46.099999999999994" fill="none" stroke="#acacac" stroke-width="1.05"/>
<path d="M32.50 241.50v-1.0M32.50 195.40v1.0M82.60 241.50v-1.0M82.60 195.40v1.0M132.70 241.50v-1.0M132.70 195.40v1.0M32.50 198.90h1.0M132.70 198.90h-1.0M32.50 212.00h1.0M132.70 212.00h-1.0M32.50 224.60h1.0M132.70 224.60h-1.0M32.50 237.20h1.0M132.70 237.20h-1.0" stroke="#959595" stroke-width="1" fill="none"/>
<text x="0" y="0" font-size="9" fill="#262626" text-anchor="middle" transform="translate(82.60 191.90) scale(0.84 1)">Knee FE moment ( 2m/s)</text>
<text font-size="9.8" fill="#262626" text-anchor="middle" transform="translate(32.50 254.60) scale(0.64 1)">0</text>
<text font-size="9.8" fill="#262626" text-anchor="middle" transform="translate(82.60 254.60) scale(0.64 1)">50</text>
<text font-size="9.8" fill="#262626" text-anchor="middle" transform="translate(132.70 254.60) scale(0.64 1)">100</text>
<text font-size="9" fill="#262626" text-anchor="middle" transform="translate(82.60 266.40) scale(0.84 1)">Time Frames</text>
<text font-size="9.8" fill="#262626" text-anchor="end" transform="translate(29.20 202.00) scale(0.64 1)">50</text>
<text font-size="9.8" fill="#262626" text-anchor="end" transform="translate(29.20 215.10) scale(0.64 1)">0</text>
<text font-size="9.8" fill="#262626" text-anchor="end" transform="translate(29.20 227.70) scale(0.64 1)">-50</text>
<text font-size="9.8" fill="#262626" text-anchor="end" transform="translate(29.20 240.30) scale(0.64 1)">-100</text>
<text font-size="9.3" fill="#262626" text-anchor="middle" transform="translate(13.05 218.65) scale(0.84 1) rotate(-90)">Moment (N-m)</text>
<clipPath id="c21"><rect x="167.5" y="192.4" width="100.2" height="49.099999999999994"/></clipPath>
<g clip-path="url(#c21)"><path d="M168.30 212.40 C169.02 212.38 171.12 212.62 172.60 212.30 C174.08 211.98 175.68 211.57 177.20 210.50 C178.72 209.43 180.18 207.48 181.70 205.90 C183.22 204.32 184.78 202.48 186.30 201.00 C187.82 199.52 189.42 197.85 190.80 197.00 C192.18 196.15 193.33 195.80 194.60 195.90 C195.87 196.00 197.00 196.35 198.40 197.60 C199.80 198.85 201.60 201.33 203.00 203.40 C204.40 205.47 205.78 207.25 206.80 210.00 C207.82 212.75 208.33 216.48 209.10 219.90 C209.87 223.32 210.65 227.33 211.40 230.50 C212.15 233.67 212.85 237.20 213.60 238.90 C214.35 240.60 215.17 241.08 215.90 240.70 C216.63 240.32 217.13 239.32 218.00 236.60 C218.87 233.88 220.08 228.45 221.10 224.40 C222.12 220.35 223.08 215.70 224.10 212.30 C225.12 208.90 226.18 205.78 227.20 204.00 C228.22 202.22 229.20 202.05 230.20 201.60 C231.20 201.15 232.32 200.92 233.20 201.30 C234.08 201.68 234.48 202.67 235.50 203.90 C236.52 205.13 238.03 207.68 239.30 208.70 C240.57 209.72 241.70 209.40 243.10 210.00 C244.50 210.60 246.05 211.50 247.70 212.30 C249.35 213.10 251.23 214.30 253.00 214.80 C254.77 215.30 256.65 215.47 258.30 215.30 C259.95 215.13 261.38 214.25 262.90 213.80 C264.42 213.35 266.65 212.80 267.40 212.60" fill="none" stroke="#000" stroke-width="2.0" stroke-linejoin="round" stroke-linecap="round"/><path d="M168.30 212.70 C169.02 212.68 171.12 212.92 172.60 212.60 C174.08 212.28 175.68 211.87 177.20 210.80 C178.72 209.73 180.18 207.78 181.70 206.20 C183.22 204.62 184.78 202.77 186.30 201.30 C187.82 199.83 189.42 198.23 190.80 197.40 C192.18 196.57 193.33 196.15 194.60 196.30 C195.87 196.45 197.00 197.03 198.40 198.30 C199.80 199.57 201.60 201.95 203.00 203.90 C204.40 205.85 205.78 207.33 206.80 210.00 C207.82 212.67 208.33 216.48 209.10 219.90 C209.87 223.32 210.65 227.33 211.40 230.50 C212.15 233.67 212.85 237.25 213.60 238.90 C214.35 240.55 215.17 240.78 215.90 240.40 C216.63 240.02 217.13 239.27 218.00 236.60 C218.87 233.93 220.08 228.45 221.10 224.40 C222.12 220.35 223.08 215.58 224.10 212.30 C225.12 209.02 226.18 206.17 227.20 204.70 C228.22 203.23 229.32 203.88 230.20 203.50 C231.08 203.12 231.62 202.08 232.50 202.40 C233.38 202.72 234.37 204.27 235.50 205.40 C236.63 206.53 238.03 208.43 239.30 209.20 C240.57 209.97 241.70 209.48 243.10 210.00 C244.50 210.52 246.05 211.47 247.70 212.30 C249.35 213.13 251.23 214.30 253.00 215.00 C254.77 215.70 256.65 216.57 258.30 216.50 C259.95 216.43 261.38 215.18 262.90 214.60 C264.42 214.02 266.65 213.27 267.40 213.00" fill="none" stroke="#f00" stroke-width="2.0" stroke-linejoin="round" stroke-linecap="round"/></g>
<rect x="167.5" y="195.4" width="100.2" height="46.099999999999994" fill="none" stroke="#acacac" stroke-width="1.05"/>
<path d="M167.50 241.50v-1.0M167.50 195.40v1.0M217.60 241.50v-1.0M217.60 195.40v1.0M267.70 241.50v-1.0M267.70 195.40v1.0M167.50 198.90h1.0M267.70 198.90h-1.0M167.50 210.40h1.0M267.70 210.40h-1.0M167.50 221.80h1.0M267.70 221.80h-1.0M167.50 233.30h1.0M267.70 233.30h-1.0" stroke="#959595" stroke-width="1" fill="none"/>
<text x="0" y="0" font-size="9" fill="#262626" text-anchor="middle" transform="translate(217.60 191.90) scale(0.84 1)">Knee FE moment ( 3m/s)</text>
<text font-size="9.8" fill="#262626" text-anchor="middle" transform="translate(167.50 254.60) scale(0.64 1)">0</text>
<text font-size="9.8" fill="#262626" text-anchor="middle" transform="translate(217.60 254.60) scale(0.64 1)">50</text>
<text font-size="9.8" fill="#262626" text-anchor="middle" transform="translate(267.70 254.60) scale(0.64 1)">100</text>
<text font-size="9" fill="#262626" text-anchor="middle" transform="translate(217.60 266.40) scale(0.84 1)">Time Frames</text>
<text font-size="9.8" fill="#262626" text-anchor="end" transform="translate(164.20 202.00) scale(0.64 1)">50</text>
<text font-size="9.8" fill="#262626" text-anchor="end" transform="translate(164.20 213.50) scale(0.64 1)">0</text>
<text font-size="9.8" fill="#262626" text-anchor="end" transform="translate(164.20 224.90) scale(0.64 1)">-50</text>
<text font-size="9.8" fill="#262626" text-anchor="end" transform="translate(164.20 236.40) scale(0.64 1)">-100</text>
<text font-size="9.3" fill="#262626" text-anchor="middle" transform="translate(148.05 218.65) scale(0.84 1) rotate(-90)">Moment (N-m)</text>
<clipPath id="c22"><rect x="301.5" y="192.4" width="100.2" height="49.099999999999994"/></clipPath>
<g clip-path="url(#c22)"><path d="M302.30 215.00 C303.27 215.10 306.37 216.02 308.10 215.60 C309.83 215.18 310.92 214.32 312.70 212.50 C314.48 210.68 317.03 206.88 318.80 204.70 C320.57 202.52 321.92 200.72 323.30 199.40 C324.68 198.08 325.83 197.32 327.10 196.80 C328.37 196.28 329.63 195.75 330.90 196.30 C332.17 196.85 333.43 198.32 334.70 200.10 C335.97 201.88 337.35 204.97 338.50 207.00 C339.65 209.03 340.83 209.90 341.60 212.30 C342.37 214.70 342.47 218.12 343.10 221.40 C343.73 224.68 344.65 229.02 345.40 232.00 C346.15 234.98 346.85 237.97 347.60 239.30 C348.35 240.63 349.17 240.70 349.90 240.00 C350.63 239.30 351.13 237.95 352.00 235.10 C352.87 232.25 354.08 226.95 355.10 222.90 C356.12 218.85 357.22 213.92 358.10 210.80 C358.98 207.68 359.63 205.62 360.40 204.20 C361.17 202.78 361.82 202.17 362.70 202.30 C363.58 202.43 364.57 203.63 365.70 205.00 C366.83 206.37 368.23 209.42 369.50 210.50 C370.77 211.58 372.03 211.17 373.30 211.50 C374.57 211.83 375.58 211.58 377.10 212.50 C378.62 213.42 380.50 215.70 382.40 217.00 C384.30 218.30 386.47 220.27 388.50 220.30 C390.53 220.33 392.45 218.15 394.60 217.20 C396.75 216.25 400.27 215.03 401.40 214.60" fill="none" stroke="#000" stroke-width="2.0" stroke-linejoin="round" stroke-linecap="round"/><path d="M302.30 215.00 C303.27 215.10 306.37 215.93 308.10 215.60 C309.83 215.27 311.18 214.32 312.70 213.00 C314.22 211.68 315.68 209.55 317.20 207.70 C318.72 205.85 320.40 203.17 321.80 201.90 C323.20 200.63 324.47 200.45 325.60 200.10 C326.73 199.75 327.47 199.33 328.60 199.80 C329.73 200.27 331.00 201.58 332.40 202.90 C333.80 204.22 335.60 206.02 337.00 207.70 C338.40 209.38 339.78 210.72 340.80 213.00 C341.82 215.28 342.33 218.23 343.10 221.40 C343.87 224.57 344.65 229.02 345.40 232.00 C346.15 234.98 346.85 238.03 347.60 239.30 C348.35 240.57 349.17 240.30 349.90 239.60 C350.63 238.90 351.13 237.88 352.00 235.10 C352.87 232.32 354.08 226.95 355.10 222.90 C356.12 218.85 357.22 213.83 358.10 210.80 C358.98 207.77 359.63 206.02 360.40 204.70 C361.17 203.38 361.82 202.78 362.70 202.90 C363.58 203.02 364.57 204.13 365.70 205.40 C366.83 206.67 368.23 209.48 369.50 210.50 C370.77 211.52 372.03 211.20 373.30 211.50 C374.57 211.80 375.58 211.47 377.10 212.30 C378.62 213.13 380.50 215.28 382.40 216.50 C384.30 217.72 386.47 219.55 388.50 219.60 C390.53 219.65 392.45 217.63 394.60 216.80 C396.75 215.97 400.27 214.97 401.40 214.60" fill="none" stroke="#f00" stroke-width="2.0" stroke-linejoin="round" stroke-linecap="round"/></g>
<rect x="301.5" y="195.4" width="100.2" height="46.099999999999994" fill="none" stroke="#acacac" stroke-width="1.05"/>
<path d="M301.50 241.50v-1.0M301.50 195.40v1.0M351.60 241.50v-1.0M351.60 195.40v1.0M401.70 241.50v-1.0M401.70 195.40v1.0M301.50 201.90h1.0M401.70 201.90h-1.0M301.50 212.40h1.0M401.70 212.40h-1.0M301.50 222.90h1.0M401.70 222.90h-1.0M301.50 233.80h1.0M401.70 233.80h-1.0" stroke="#959595" stroke-width="1" fill="none"/>
<text x="0" y="0" font-size="9" fill="#262626" text-anchor="middle" transform="translate(351.60 191.90) scale(0.84 1)">Knee FE moment ( 4m/s)</text>
<text font-size="9.8" fill="#262626" text-anchor="middle" transform="translate(301.50 254.60) scale(0.64 1)">0</text>
<text font-size="9.8" fill="#262626" text-anchor="middle" transform="translate(351.60 254.60) scale(0.64 1)">50</text>
<text font-size="9.8" fill="#262626" text-anchor="middle" transform="translate(401.70 254.60) scale(0.64 1)">100</text>
<text font-size="9" fill="#262626" text-anchor="middle" transform="translate(351.60 266.40) scale(0.84 1)">Time Frames</text>
<text font-size="9.8" fill="#262626" text-anchor="end" transform="translate(298.20 205.00) scale(0.64 1)">50</text>
<text font-size="9.8" fill="#262626" text-anchor="end" transform="translate(298.20 215.50) scale(0.64 1)">0</text>
<text font-size="9.8" fill="#262626" text-anchor="end" transform="translate(298.20 226.00) scale(0.64 1)">-50</text>
<text font-size="9.8" fill="#262626" text-anchor="end" transform="translate(298.20 236.90) scale(0.64 1)">-100</text>
<text font-size="9.3" fill="#262626" text-anchor="middle" transform="translate(282.05 218.65) scale(0.84 1) rotate(-90)">Moment (N-m)</text>
<clipPath id="c23"><rect x="435.5" y="192.4" width="100.2" height="49.099999999999994"/></clipPath>
<g clip-path="url(#c23)"><path d="M436.30 224.10 C437.02 224.20 439.25 224.90 440.60 224.70 C441.95 224.50 443.13 224.22 444.40 222.90 C445.67 221.58 446.93 219.33 448.20 216.80 C449.47 214.27 450.73 210.53 452.00 207.70 C453.27 204.87 454.40 201.70 455.80 199.80 C457.20 197.90 459.00 196.70 460.40 196.30 C461.80 195.90 462.82 196.25 464.20 197.40 C465.58 198.55 467.32 200.97 468.70 203.20 C470.08 205.43 471.35 208.53 472.50 210.80 C473.65 213.07 474.83 215.03 475.60 216.80 C476.37 218.57 476.47 218.87 477.10 221.40 C477.73 223.93 478.60 228.92 479.40 232.00 C480.20 235.08 481.02 238.83 481.90 239.90 C482.78 240.97 483.88 239.72 484.70 238.40 C485.52 237.08 485.82 235.47 486.80 232.00 C487.78 228.53 489.47 221.65 490.60 217.60 C491.73 213.55 492.72 209.73 493.60 207.70 C494.48 205.67 495.00 205.15 495.90 205.40 C496.80 205.65 497.85 207.67 499.00 209.20 C500.15 210.73 501.42 213.45 502.80 214.60 C504.18 215.75 505.78 215.47 507.30 216.10 C508.82 216.73 510.25 217.27 511.90 218.40 C513.55 219.53 515.43 221.58 517.20 222.90 C518.97 224.22 520.73 226.10 522.50 226.30 C524.27 226.50 526.02 224.78 527.80 224.10 C529.58 223.42 531.83 222.52 533.20 222.20 C534.57 221.88 535.53 222.20 536.00 222.20" fill="none" stroke="#000" stroke-width="2.0" stroke-linejoin="round" stroke-linecap="round"/><path d="M436.30 216.50 C437.02 216.60 439.00 216.67 440.60 217.10 C442.20 217.53 444.38 219.40 445.90 219.10 C447.42 218.80 448.43 216.95 449.70 215.30 C450.97 213.65 452.23 210.58 453.50 209.20 C454.77 207.82 456.10 207.95 457.30 207.00 C458.50 206.05 459.43 203.63 460.70 203.50 C461.97 203.37 463.43 204.98 464.90 206.20 C466.37 207.42 467.98 209.03 469.50 210.80 C471.02 212.57 472.73 215.03 474.00 216.80 C475.27 218.57 476.20 218.87 477.10 221.40 C478.00 223.93 478.60 228.92 479.40 232.00 C480.20 235.08 481.02 238.83 481.90 239.90 C482.78 240.97 483.75 239.97 484.70 238.40 C485.65 236.83 486.48 234.10 487.60 230.50 C488.72 226.90 490.27 220.35 491.40 216.80 C492.53 213.25 493.52 210.52 494.40 209.20 C495.28 207.88 495.82 208.38 496.70 208.90 C497.58 209.42 498.57 211.23 499.70 212.30 C500.83 213.37 501.98 214.55 503.50 215.30 C505.02 216.05 506.90 215.92 508.80 216.80 C510.70 217.68 512.87 219.53 514.90 220.60 C516.93 221.67 519.10 223.20 521.00 223.20 C522.90 223.20 524.65 221.53 526.30 220.60 C527.95 219.67 529.28 218.23 530.90 217.60 C532.52 216.97 535.15 216.93 536.00 216.80" fill="none" stroke="#f00" stroke-width="2.0" stroke-linejoin="round" stroke-linecap="round"/></g>
<rect x="435.5" y="195.4" width="100.2" height="46.099999999999994" fill="none" stroke="#acacac" stroke-width="1.05"/>
<path d="M435.50 241.50v-1.0M435.50 195.40v1.0M485.60 241.50v-1.0M485.60 195.40v1.0M535.70 241.50v-1.0M535.70 195.40v1.0M435.50 198.40h1.0M535.70 198.40h-1.0M435.50 217.40h1.0M535.70 217.40h-1.0M435.50 236.40h1.0M535.70 236.40h-1.0" stroke="#959595" stroke-width="1" fill="none"/>
<text x="0" y="0" font-size="9" fill="#262626" text-anchor="middle" transform="translate(485.60 191.90) scale(0.84 1)">Knee FE moment ( 5m/s)</text>
<text font-size="9.8" fill="#262626" text-anchor="middle" transform="translate(435.50 254.60) scale(0.64 1)">0</text>
<text font-size="9.8" fill="#262626" text-anchor="middle" transform="translate(485.60 254.60) scale(0.64 1)">50</text>
<text font-size="9.8" fill="#262626" text-anchor="middle" transform="translate(535.70 254.60) scale(0.64 1)">100</text>
<text font-size="9" fill="#262626" text-anchor="middle" transform="translate(485.60 266.40) scale(0.84 1)">Time Frames</text>
<text font-size="9.8" fill="#262626" text-anchor="end" transform="translate(432.20 201.50) scale(0.64 1)">100</text>
<text font-size="9.8" fill="#262626" text-anchor="end" transform="translate(432.20 220.50) scale(0.64 1)">0</text>
<text font-size="9.8" fill="#262626" text-anchor="end" transform="translate(432.20 239.50) scale(0.64 1)">-100</text>
<text font-size="9.3" fill="#262626" text-anchor="middle" transform="translate(416.05 218.65) scale(0.84 1) rotate(-90)">Moment (N-m)</text>
<clipPath id="c30"><rect x="32.5" y="280.0" width="100.2" height="49.39999999999998"/></clipPath>
<g clip-path="url(#c30)"><path d="M33.30 323.10 C34.78 323.15 39.45 323.40 42.20 323.40 C44.95 323.40 47.53 323.28 49.80 323.10 C52.07 322.92 54.03 322.73 55.80 322.30 C57.57 321.87 58.75 320.67 60.40 320.50 C62.05 320.33 64.38 320.63 65.70 321.30 C67.02 321.97 67.53 323.47 68.30 324.50 C69.07 325.53 69.58 327.73 70.30 327.50 C71.02 327.27 71.72 325.93 72.60 323.10 C73.48 320.27 74.53 314.18 75.60 310.50 C76.67 306.82 77.93 303.75 79.00 301.00 C80.07 298.25 81.17 295.95 82.00 294.00 C82.83 292.05 83.25 290.72 84.00 289.30 C84.75 287.88 85.70 286.30 86.50 285.50 C87.30 284.70 88.02 284.45 88.80 284.50 C89.58 284.55 90.25 284.30 91.20 285.80 C92.15 287.30 93.47 290.72 94.50 293.50 C95.53 296.28 96.52 299.83 97.40 302.50 C98.28 305.17 98.83 307.08 99.80 309.50 C100.77 311.92 102.17 315.17 103.20 317.00 C104.23 318.83 105.03 319.63 106.00 320.50 C106.97 321.37 107.53 321.80 109.00 322.20 C110.47 322.60 112.53 322.73 114.80 322.90 C117.07 323.07 119.67 323.25 122.60 323.20 C125.53 323.15 130.77 322.70 132.40 322.60" fill="none" stroke="#000" stroke-width="2.0" stroke-linejoin="round" stroke-linecap="round"/><path d="M33.30 323.10 C34.78 323.15 39.45 323.40 42.20 323.40 C44.95 323.40 47.53 323.28 49.80 323.10 C52.07 322.92 54.03 322.68 55.80 322.30 C57.57 321.92 58.75 320.92 60.40 320.80 C62.05 320.68 64.38 321.02 65.70 321.60 C67.02 322.18 67.53 323.42 68.30 324.30 C69.07 325.18 69.58 327.10 70.30 326.90 C71.02 326.70 71.72 325.83 72.60 323.10 C73.48 320.37 74.53 314.18 75.60 310.50 C76.67 306.82 77.93 303.75 79.00 301.00 C80.07 298.25 81.17 295.92 82.00 294.00 C82.83 292.08 83.25 290.87 84.00 289.50 C84.75 288.13 85.70 286.58 86.50 285.80 C87.30 285.02 88.02 284.77 88.80 284.80 C89.58 284.83 90.25 284.55 91.20 286.00 C92.15 287.45 93.47 290.75 94.50 293.50 C95.53 296.25 96.58 300.00 97.40 302.50 C98.22 305.00 98.72 306.83 99.40 308.50 C100.08 310.17 100.87 311.25 101.50 312.50 C102.13 313.75 102.45 314.83 103.20 316.00 C103.95 317.17 105.03 318.57 106.00 319.50 C106.97 320.43 107.53 321.03 109.00 321.60 C110.47 322.17 112.53 322.63 114.80 322.90 C117.07 323.17 119.67 323.25 122.60 323.20 C125.53 323.15 130.77 322.70 132.40 322.60" fill="none" stroke="#f00" stroke-width="2.0" stroke-linejoin="round" stroke-linecap="round"/></g>
<rect x="32.5" y="283.0" width="100.2" height="46.39999999999998" fill="none" stroke="#acacac" stroke-width="1.05"/>
<path d="M32.50 329.40v-1.0M32.50 283.00v1.0M82.60 329.40v-1.0M82.60 283.00v1.0M132.70 329.40v-1.0M132.70 283.00v1.0M32.50 289.90h1.0M132.70 289.90h-1.0M32.50 306.40h1.0M132.70 306.40h-1.0M32.50 322.90h1.0M132.70 322.90h-1.0" stroke="#959595" stroke-width="1" fill="none"/>
<text x="0" y="0" font-size="9" fill="#262626" text-anchor="middle" transform="translate(82.60 279.50) scale(0.84 1)">Ankle PDF moment ( 2m/s)</text>
<text font-size="9.8" fill="#262626" text-anchor="middle" transform="translate(32.50 342.50) scale(0.64 1)">0</text>
<text font-size="9.8" fill="#262626" text-anchor="middle" transform="translate(82.60 342.50) scale(0.64 1)">50</text>
<text font-size="9.8" fill="#262626" text-anchor="middle" transform="translate(132.70 342.50) scale(0.64 1)">100</text>
<text font-size="9" fill="#262626" text-anchor="middle" transform="translate(82.60 354.30) scale(0.84 1)">Time Frames</text>
<text font-size="9.8" fill="#262626" text-anchor="end" transform="translate(29.20 293.00) scale(0.64 1)">100</text>
<text font-size="9.8" fill="#262626" text-anchor="end" transform="translate(29.20 309.50) scale(0.64 1)">50</text>
<text font-size="9.8" fill="#262626" text-anchor="end" transform="translate(29.20 326.00) scale(0.64 1)">0</text>
<text font-size="9.3" fill="#262626" text-anchor="middle" transform="translate(15.14 306.40) scale(0.84 1) rotate(-90)">Moment (N-m)</text>
<clipPath id="c31"><rect x="167.5" y="280.0" width="100.2" height="49.39999999999998"/></clipPath>
<g clip-path="url(#c31)"><path d="M168.30 323.10 C169.78 323.15 173.95 323.45 177.20 323.40 C180.45 323.35 185.27 323.10 187.80 322.80 C190.33 322.50 191.13 322.07 192.40 321.60 C193.67 321.13 194.13 320.07 195.40 320.00 C196.67 319.93 198.73 320.45 200.00 321.20 C201.27 321.95 202.12 323.37 203.00 324.50 C203.88 325.63 204.53 328.12 205.30 328.00 C206.07 327.88 206.72 326.40 207.60 323.80 C208.48 321.20 209.47 316.45 210.60 312.40 C211.73 308.35 213.17 303.33 214.40 299.50 C215.63 295.67 216.77 292.08 218.00 289.40 C219.23 286.72 220.72 284.05 221.80 283.40 C222.88 282.75 223.68 284.57 224.50 285.50 C225.32 286.43 225.98 287.33 226.70 289.00 C227.42 290.67 228.17 293.13 228.80 295.50 C229.43 297.87 229.73 300.37 230.50 303.20 C231.27 306.03 232.27 309.70 233.40 312.50 C234.53 315.30 236.02 318.32 237.30 320.00 C238.58 321.68 239.75 322.05 241.10 322.60 C242.45 323.15 243.42 323.13 245.40 323.30 C247.38 323.47 250.47 323.58 253.00 323.60 C255.53 323.62 258.20 323.53 260.60 323.40 C263.00 323.27 266.27 322.90 267.40 322.80" fill="none" stroke="#000" stroke-width="2.0" stroke-linejoin="round" stroke-linecap="round"/><path d="M168.30 323.10 C169.78 323.15 173.95 323.45 177.20 323.40 C180.45 323.35 185.27 323.05 187.80 322.80 C190.33 322.55 191.13 322.32 192.40 321.90 C193.67 321.48 194.13 320.42 195.40 320.30 C196.67 320.18 198.73 320.53 200.00 321.20 C201.27 321.87 202.12 323.23 203.00 324.30 C203.88 325.37 204.53 327.68 205.30 327.60 C206.07 327.52 206.72 326.33 207.60 323.80 C208.48 321.27 209.47 316.45 210.60 312.40 C211.73 308.35 213.17 303.30 214.40 299.50 C215.63 295.70 216.77 292.25 218.00 289.60 C219.23 286.95 220.72 284.28 221.80 283.60 C222.88 282.92 223.68 284.65 224.50 285.50 C225.32 286.35 225.98 287.12 226.70 288.70 C227.42 290.28 228.17 292.70 228.80 295.00 C229.43 297.30 229.73 299.70 230.50 302.50 C231.27 305.30 232.27 308.97 233.40 311.80 C234.53 314.63 236.02 317.75 237.30 319.50 C238.58 321.25 239.75 321.67 241.10 322.30 C242.45 322.93 243.42 323.08 245.40 323.30 C247.38 323.52 250.47 323.58 253.00 323.60 C255.53 323.62 258.20 323.48 260.60 323.40 C263.00 323.32 266.27 323.15 267.40 323.10" fill="none" stroke="#f00" stroke-width="2.0" stroke-linejoin="round" stroke-linecap="round"/></g>
<rect x="167.5" y="283.0" width="100.2" height="46.39999999999998" fill="none" stroke="#acacac" stroke-width="1.05"/>
<path d="M167.50 329.40v-1.0M167.50 283.00v1.0M217.60 329.40v-1.0M217.60 283.00v1.0M267.70 329.40v-1.0M267.70 283.00v1.0M167.50 292.90h1.0M267.70 292.90h-1.0M167.50 307.90h1.0M267.70 307.90h-1.0M167.50 322.90h1.0M267.70 322.90h-1.0" stroke="#959595" stroke-width="1" fill="none"/>
<text x="0" y="0" font-size="9" fill="#262626" text-anchor="middle" transform="translate(217.60 279.50) scale(0.84 1)">Ankle PDF moment ( 3m/s)</text>
<text font-size="9.8" fill="#262626" text-anchor="middle" transform="translate(167.50 342.50) scale(0.64 1)">0</text>
<text font-size="9.8" fill="#262626" text-anchor="middle" transform="translate(217.60 342.50) scale(0.64 1)">50</text>
<text font-size="9.8" fill="#262626" text-anchor="middle" transform="translate(267.70 342.50) scale(0.64 1)">100</text>
<text font-size="9" fill="#262626" text-anchor="middle" transform="translate(217.60 354.30) scale(0.84 1)">Time Frames</text>
<text font-size="9.8" fill="#262626" text-anchor="end" transform="translate(164.20 296.00) scale(0.64 1)">100</text>
<text font-size="9.8" fill="#262626" text-anchor="end" transform="translate(164.20 311.00) scale(0.64 1)">50</text>
<text font-size="9.8" fill="#262626" text-anchor="end" transform="translate(164.20 326.00) scale(0.64 1)">0</text>
<text font-size="9.3" fill="#262626" text-anchor="middle" transform="translate(150.14 306.40) scale(0.84 1) rotate(-90)">Moment (N-m)</text>
<clipPath id="c32"><rect x="301.5" y="280.0" width="100.2" height="49.39999999999998"/></clipPath>
<g clip-path="url(#c32)"><path d="M302.30 322.80 C303.78 322.90 307.95 323.48 311.20 323.40 C314.45 323.32 318.77 322.82 321.80 322.30 C324.83 321.78 327.25 320.37 329.40 320.30 C331.55 320.23 333.43 321.12 334.70 321.90 C335.97 322.68 336.32 324.00 337.00 325.00 C337.68 326.00 338.10 328.22 338.80 327.90 C339.50 327.58 340.23 325.93 341.20 323.10 C342.17 320.27 343.40 315.17 344.60 310.90 C345.80 306.63 347.27 301.17 348.40 297.50 C349.53 293.83 350.47 291.10 351.40 288.90 C352.33 286.70 353.38 285.23 354.00 284.30 C354.62 283.37 354.42 282.78 355.10 283.30 C355.78 283.82 357.08 284.82 358.10 287.40 C359.12 289.98 360.18 295.13 361.20 298.80 C362.22 302.47 363.07 306.17 364.20 309.40 C365.33 312.63 366.73 316.05 368.00 318.20 C369.27 320.35 369.90 321.43 371.80 322.30 C373.70 323.17 376.87 323.15 379.40 323.40 C381.93 323.65 384.47 323.85 387.00 323.80 C389.53 323.75 392.20 323.27 394.60 323.10 C397.00 322.93 400.27 322.85 401.40 322.80" fill="none" stroke="#000" stroke-width="2.0" stroke-linejoin="round" stroke-linecap="round"/><path d="M302.30 322.80 C303.78 322.90 307.95 323.48 311.20 323.40 C314.45 323.32 318.77 322.82 321.80 322.30 C324.83 321.78 327.25 320.37 329.40 320.30 C331.55 320.23 333.43 321.18 334.70 321.90 C335.97 322.62 336.32 323.70 337.00 324.60 C337.68 325.50 338.10 327.55 338.80 327.30 C339.50 327.05 340.23 325.83 341.20 323.10 C342.17 320.37 343.40 314.95 344.60 310.90 C345.80 306.85 347.17 302.08 348.40 298.80 C349.63 295.52 350.88 293.03 352.00 291.20 C353.12 289.37 354.08 287.93 355.10 287.80 C356.12 287.67 357.08 288.32 358.10 290.40 C359.12 292.48 360.18 297.00 361.20 300.30 C362.22 303.60 363.07 307.17 364.20 310.20 C365.33 313.23 366.73 316.48 368.00 318.50 C369.27 320.52 369.90 321.48 371.80 322.30 C373.70 323.12 376.87 323.15 379.40 323.40 C381.93 323.65 384.47 323.85 387.00 323.80 C389.53 323.75 392.20 323.27 394.60 323.10 C397.00 322.93 400.27 322.85 401.40 322.80" fill="none" stroke="#f00" stroke-width="2.0" stroke-linejoin="round" stroke-linecap="round"/></g>
<rect x="301.5" y="283.0" width="100.2" height="46.39999999999998" fill="none" stroke="#acacac" stroke-width="1.05"/>
<path d="M301.50 329.40v-1.0M301.50 283.00v1.0M351.60 329.40v-1.0M351.60 283.00v1.0M401.70 329.40v-1.0M401.70 283.00v1.0M301.50 286.40h1.0M401.70 286.40h-1.0M301.50 298.60h1.0M401.70 298.60h-1.0M301.50 310.70h1.0M401.70 310.70h-1.0M301.50 322.90h1.0M401.70 322.90h-1.0" stroke="#959595" stroke-width="1" fill="none"/>
<text x="0" y="0" font-size="9" fill="#262626" text-anchor="middle" transform="translate(351.60 279.50) scale(0.84 1)">Ankle PDF moment ( 4m/s)</text>
<text font-size="9.8" fill="#262626" text-anchor="middle" transform="translate(301.50 342.50) scale(0.64 1)">0</text>
<text font-size="9.8" fill="#262626" text-anchor="middle" transform="translate(351.60 342.50) scale(0.64 1)">50</text>
<text font-size="9.8" fill="#262626" text-anchor="middle" transform="translate(401.70 342.50) scale(0.64 1)">100</text>
<text font-size="9" fill="#262626" text-anchor="middle" transform="translate(351.60 354.30) scale(0.84 1)">Time Frames</text>
<text font-size="9.8" fill="#262626" text-anchor="end" transform="translate(298.20 289.50) scale(0.64 1)">150</text>
<text font-size="9.8" fill="#262626" text-anchor="end" transform="translate(298.20 301.70) scale(0.64 1)">100</text>
<text font-size="9.8" fill="#262626" text-anchor="end" transform="translate(298.20 313.80) scale(0.64 1)">50</text>
<text font-size="9.8" fill="#262626" text-anchor="end" transform="translate(298.20 326.00) scale(0.64 1)">0</text>
<text font-size="9.3" fill="#262626" text-anchor="middle" transform="translate(284.14 306.40) scale(0.84 1) rotate(-90)">Moment (N-m)</text>
<clipPath id="c33"><rect x="435.5" y="280.0" width="100.2" height="49.39999999999998"/></clipPath>
<g clip-path="url(#c33)"><path d="M436.30 320.80 C437.78 320.93 441.95 321.68 445.20 321.60 C448.45 321.52 452.90 320.77 455.80 320.30 C458.70 319.83 460.70 318.58 462.60 318.80 C464.50 319.02 465.93 320.50 467.20 321.60 C468.47 322.70 469.32 324.27 470.20 325.40 C471.08 326.53 471.73 328.53 472.50 328.40 C473.27 328.27 473.92 327.27 474.80 324.60 C475.68 321.93 476.78 316.45 477.80 312.40 C478.82 308.35 479.88 303.83 480.90 300.30 C481.92 296.77 483.02 293.62 483.90 291.20 C484.78 288.78 485.38 287.12 486.20 285.80 C487.02 284.48 487.82 283.03 488.80 283.30 C489.78 283.57 491.03 284.95 492.10 287.40 C493.17 289.85 494.18 294.47 495.20 298.00 C496.22 301.53 497.07 305.30 498.20 308.60 C499.33 311.90 500.73 315.85 502.00 317.80 C503.27 319.75 503.90 319.67 505.80 320.30 C507.70 320.93 510.87 321.27 513.40 321.60 C515.93 321.93 518.47 322.43 521.00 322.30 C523.53 322.17 526.10 321.18 528.60 320.80 C531.10 320.42 534.77 320.13 536.00 320.00" fill="none" stroke="#000" stroke-width="2.0" stroke-linejoin="round" stroke-linecap="round"/><path d="M436.30 320.00 C437.27 320.13 439.87 320.67 442.10 320.80 C444.33 320.93 447.17 320.98 449.70 320.80 C452.23 320.62 455.02 320.03 457.30 319.70 C459.58 319.37 461.50 318.87 463.40 318.80 C465.30 318.73 467.38 318.83 468.70 319.30 C470.02 319.77 470.53 320.85 471.30 321.60 C472.07 322.35 472.47 324.32 473.30 323.80 C474.13 323.28 475.28 320.90 476.30 318.50 C477.32 316.10 478.38 312.43 479.40 309.40 C480.42 306.37 481.40 302.97 482.40 300.30 C483.40 297.63 484.28 295.12 485.40 293.40 C486.52 291.68 487.98 290.12 489.10 290.00 C490.22 289.88 490.97 290.48 492.10 292.70 C493.23 294.92 494.63 299.50 495.90 303.30 C497.17 307.10 498.43 312.77 499.70 315.50 C500.97 318.23 501.98 318.82 503.50 319.70 C505.02 320.58 505.88 320.48 508.80 320.80 C511.72 321.12 517.70 321.68 521.00 321.60 C524.30 321.52 526.10 320.62 528.60 320.30 C531.10 319.98 534.77 319.80 536.00 319.70" fill="none" stroke="#f00" stroke-width="2.0" stroke-linejoin="round" stroke-linecap="round"/></g>
<rect x="435.5" y="283.0" width="100.2" height="46.39999999999998" fill="none" stroke="#acacac" stroke-width="1.05"/>
<path d="M435.50 329.40v-1.0M435.50 283.00v1.0M485.60 329.40v-1.0M485.60 283.00v1.0M535.70 329.40v-1.0M535.70 283.00v1.0M435.50 287.20h1.0M535.70 287.20h-1.0M435.50 298.40h1.0M535.70 298.40h-1.0M435.50 309.50h1.0M535.70 309.50h-1.0M435.50 320.60h1.0M535.70 320.60h-1.0" stroke="#959595" stroke-width="1" fill="none"/>
<text x="0" y="0" font-size="9" fill="#262626" text-anchor="middle" transform="translate(485.60 279.50) scale(0.84 1)">Ankle PDF moment ( 5m/s)</text>
<text font-size="9.8" fill="#262626" text-anchor="middle" transform="translate(435.50 342.50) scale(0.64 1)">0</text>
<text font-size="9.8" fill="#262626" text-anchor="middle" transform="translate(485.60 342.50) scale(0.64 1)">50</text>
<text font-size="9.8" fill="#262626" text-anchor="middle" transform="translate(535.70 342.50) scale(0.64 1)">100</text>
<text font-size="9" fill="#262626" text-anchor="middle" transform="translate(485.60 354.30) scale(0.84 1)">Time Frames</text>
<text font-size="9.8" fill="#262626" text-anchor="end" transform="translate(432.20 290.30) scale(0.64 1)">150</text>
<text font-size="9.8" fill="#262626" text-anchor="end" transform="translate(432.20 301.50) scale(0.64 1)">100</text>
<text font-size="9.8" fill="#262626" text-anchor="end" transform="translate(432.20 312.60) scale(0.64 1)">50</text>
<text font-size="9.8" fill="#262626" text-anchor="end" transform="translate(432.20 323.70) scale(0.64 1)">0</text>
<text font-size="9.3" fill="#262626" text-anchor="middle" transform="translate(418.14 306.40) scale(0.84 1) rotate(-90)">Moment (N-m)</text>
<rect x="429.5" y="47.0" width="84.5" height="19.3" fill="#fff" stroke="#a8a8a8" stroke-width="1"/>
<line x1="431.8" y1="52.2" x2="447.3" y2="52.2" stroke="#000" stroke-width="2.2"/>
<line x1="431.8" y1="61.2" x2="447.3" y2="61.2" stroke="#f00" stroke-width="2.2"/>
<text font-size="7.1" fill="#262626" transform="translate(448.8 54.9) scale(0.77 1)">Inverse dynamics moment</text>
<text font-size="7.1" fill="#262626" transform="translate(448.8 63.9) scale(0.77 1)">ELM calculate moment</text>
</svg></body></html>
